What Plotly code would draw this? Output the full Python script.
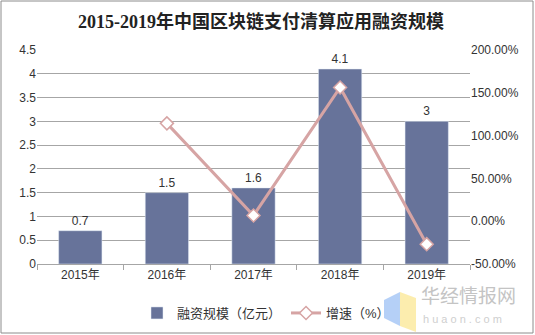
import plotly.graph_objects as go

years = ["2015年", "2016年", "2017年", "2018年", "2019年"]
scale = [0.7, 1.5, 1.6, 4.1, 3]
growth_years = ["2016年", "2017年", "2018年", "2019年"]
growth = [114.29, 6.67, 156.25, -26.83]
left_ticks = [0, 0.5, 1, 1.5, 2, 2.5, 3, 3.5, 4, 4.5]
right_ticks = [-50, 0, 50, 100, 150, 200]

BAR = "#67739a"
LINE = "#d6a4a4"
FONT = "Liberation Sans, Arial, Noto Sans CJK SC, sans-serif"

fig = go.Figure()
fig.add_trace(go.Bar(
    x=years, y=scale, name="融资规模（亿元）",
    marker=dict(color=BAR), width=0.5,
    text=[str(v) for v in scale], textposition="outside",
    textfont=dict(size=12, color="#333333", family=FONT),
    cliponaxis=False,
))
fig.add_trace(go.Scatter(
    x=growth_years, y=growth, name="增速（%）", yaxis="y2",
    mode="lines+markers",
    line=dict(color=LINE, width=3),
    marker=dict(symbol="diamond", size=10, color="white",
                line=dict(color=LINE, width=1.5)),
))

L, R, T, B = 37, 65, 50, 71
W, H = 535, 335
pw, ph = W - L - R, H - T - B

def px(x):
    return (x - L) / pw

def py(y):
    return (H - B - y) / ph

def path(points):
    return "M " + " L ".join(f"{px(x):.4f},{py(y):.4f}" for x, y in points) + " Z"

fig.update_layout(
    width=W, height=H,
    margin=dict(l=L, r=R, t=T, b=B, pad=0, autoexpand=False),
    paper_bgcolor="white", plot_bgcolor="white",
    font=dict(family=FONT, size=12, color="#333333"),
    title=dict(text="<b>2015-2019年中国区块链支付清算应用融资规模</b>",
               x=px(261), xref="paper", xanchor="center", y=1 - 22 / H, yanchor="middle",
               font=dict(size=18, color="#222222",
                         family="Liberation Serif, Noto Sans CJK SC, serif")),
    bargap=0.5,
    xaxis=dict(
        showline=True, linecolor="#a6a6a6", linewidth=1,
        ticks="outside", ticklen=5, tickcolor="#a6a6a6",
        tickson="boundaries", showgrid=False,
        tickfont=dict(size=12, color="#333333"),
    ),
    yaxis=dict(
        range=[0, 4.5], tickvals=left_ticks,
        ticktext=[("%g" % v) for v in left_ticks],
        showgrid=True, gridcolor="#a6a6a6", gridwidth=1,
        zeroline=False, showline=False,
        tickfont=dict(size=12, color="#333333"),
    ),
    yaxis2=dict(
        range=[-50, 200], tickvals=right_ticks,
        ticktext=["%.2f%%" % v for v in right_ticks],
        overlaying="y", side="right", showgrid=False, zeroline=False,
        showline=False,
        tickfont=dict(size=12, color="#333333"),
    ),
    legend=dict(orientation="h", x=px(266), xanchor="center",
                y=py(313), yanchor="middle",
                font=dict(size=13, color="#333333"),
                itemwidth=30, tracegroupgap=0, bgcolor="rgba(0,0,0,0)"),
    showlegend=True,
    shapes=[
        dict(type="path", xref="paper", yref="paper",
             path=path([(384, 300), (400, 292), (400, 326), (384, 318)]),
             fillcolor="rgba(120,170,240,0.55)", line=dict(width=0), layer="above"),
        dict(type="path", xref="paper", yref="paper",
             path=path([(400, 292), (416, 298), (416, 332), (400, 326)]),
             fillcolor="rgba(250,225,120,0.6)", line=dict(width=0), layer="above"),
        dict(type="rect", xref="paper", yref="paper",
             x0=px(1), x1=px(533), y0=py(333), y1=py(1),
             line=dict(color="#8c8c8c", width=1), fillcolor="rgba(0,0,0,0)",
             layer="below"),
    ],
    annotations=[
        dict(text="华经情报网", xref="paper", yref="paper", x=px(419), y=py(294),
             xanchor="left", yanchor="middle", showarrow=False,
             font=dict(size=19, color="#c4c4c4", family="Noto Sans CJK SC")),
        dict(text="h u a o n . c o m", xref="paper", yref="paper", x=px(421), y=py(319),
             xanchor="left", yanchor="middle", showarrow=False,
             font=dict(size=11, color="#cfcfcf", family="Liberation Sans")),
    ],
)

fig.write_html("out.html")
